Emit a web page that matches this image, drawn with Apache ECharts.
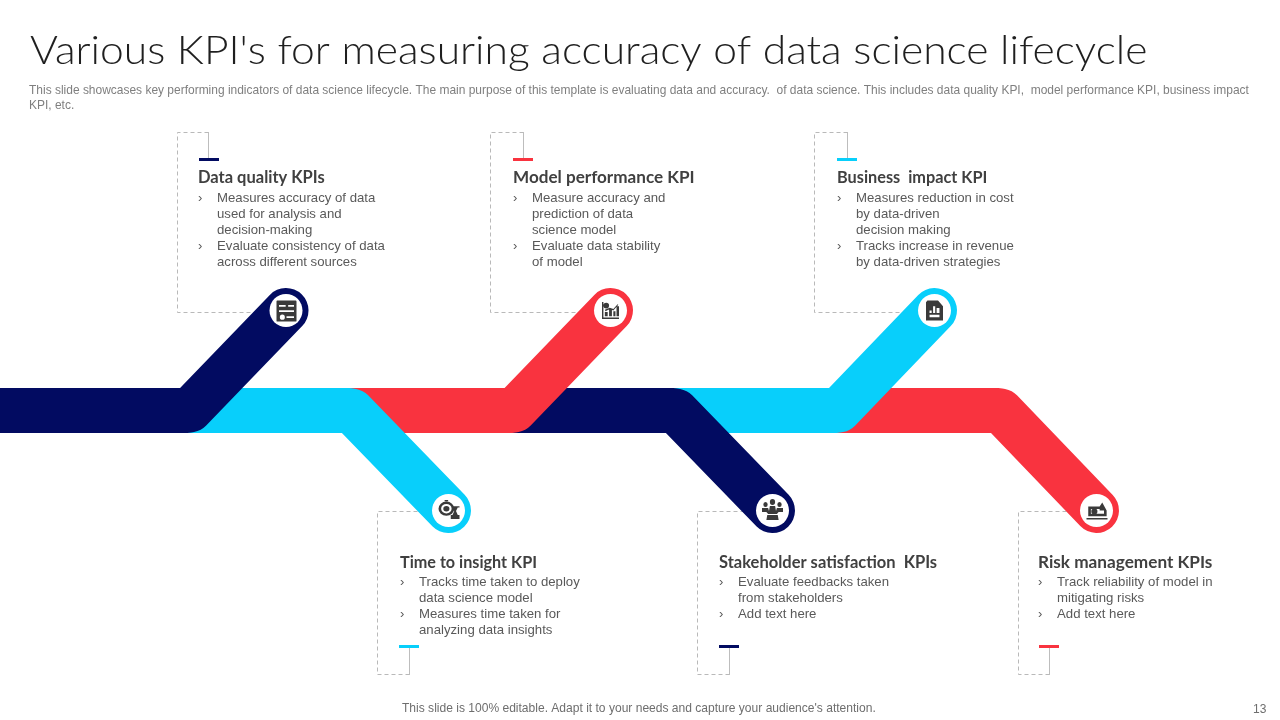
<!DOCTYPE html>
<html><head><meta charset="utf-8">
<style>html,body{margin:0;padding:0;background:#fff}#c{width:1280px;height:720px}</style>
<script src="https://cdn.jsdelivr.net/npm/echarts@6/dist/echarts.min.js"></script></head>
<body><div id="c"></div>
<script>
const titleText = "Various KPI's for measuring accuracy of data science lifecycle";
const subtitleLines = [
  "This slide showcases key performing indicators of data science lifecycle. The main purpose of this template is evaluating data and accuracy.  of data science. This includes data quality KPI,  model performance KPI, business impact",
  "KPI, etc."
];
const footerText = "This slide is 100% editable. Adapt it to your needs and capture your audience's attention.";
const pageNumber = "13";

const headings = ["Data quality KPIs","Model performance KPI","Business  impact KPI","Time to insight KPI","Stakeholder satisfaction  KPIs","Risk management KPIs"];
const headingSizes = [16.5,17.1,16.3,16.2,16.5,17.2];
const bullets = [
  [["Measures accuracy of data","used for analysis and","decision-making"],["Evaluate consistency of data","across different sources"]],
  [["Measure accuracy and","prediction of data","science model"],["Evaluate data stability","of model"]],
  [["Measures reduction in cost","by data-driven","decision making"],["Tracks increase in revenue","by data-driven strategies"]],
  [["Tracks time taken to deploy","data science model"],["Measures time taken for","analyzing data insights"]],
  [["Evaluate feedbacks taken","from stakeholders"],["Add text here"]],
  [["Track reliability of model in","mitigating risks"],["Add text here"]]
];

const NAVY="#020b61", RED="#f9333f", CYAN="#08cffb";
const cardColors=[NAVY,RED,CYAN,CYAN,NAVY,RED];

const ribbonRed2  =[[839,410.5],[998.3,410.5],[1001,411],[1002.9,412.5],[1096.5,510.5]];
const ribbonCyan2 =[[676,410.5],[836.3,410.5],[839,410],[840.9,408.5],[934.5,310.5]];
const ribbonNavy2 =[[514.5,410.5],[673.3,410.5],[676,411],[677.9,412.5],[772.5,510.5]];
const ribbonRed1  =[[352,410.5],[511.8,410.5],[514.5,410],[516.4,408.5],[610.5,310.5]];
const ribbonCyan1 =[[190,410.5],[349.3,410.5],[352,411],[353.9,412.5],[448.5,510.5]];
const ribbonNavy1 =[[0,410.5],[187.3,410.5],[190,410],[191.9,408.5],[286,310.5]];

const nodeCenters=[[286,310.5],[610.5,310.5],[934.5,310.5],[448.5,510.5],[772.5,510.5],[1096.5,510.5]];
const iconCenters=[[286.5,311],[610.5,310.5],[934.5,310.5],[449,509.5],[772.5,509.5],[1097,511]];
const iconSizes=[[20,21],[17,17],[17,20],[21,19],[21,21],[21,17]];
const iconPaths=[
 "M0 1Q0 0 1 0H23Q24 0 24 1V23Q24 24 23 24H1Q0 24 0 23ZM3 5V7H11V5ZM14 5V7H21V5ZM3 11V13H21V11ZM7 16A3 3 0 1 0 7 22A3 3 0 1 0 7 16ZM12 18V20H21V18Z",
 "M0 0H2V22H24V24H0ZM4 14H8V20H4ZM10 10H14V20H10ZM16 13H19V20H16ZM20.5 6H24V20H20.5ZM6 1A4 4 0 1 1 6 9A4 4 0 1 1 6 1ZM4 11L11 8L16 10L22 3L23 4L16 12L11 10L5 13Z",
 "M2 0H17L24 7V24H0V2ZM5 17V20H19V17ZM5 14V15H8V12H5ZM10 15H13V7H10ZM15 15H19V9H15Z",
 "M9 2A9 9 0 1 1 9 20A9 9 0 1 1 9 2ZM9 5A6 6 0 1 0 9 17A6 6 0 1 0 9 5ZM9 7.5A3.5 3.5 0 1 1 9 14.5A3.5 3.5 0 1 1 9 7.5ZM7 0H11V1.5H7ZM16 8H24V9.5H22L20 14L22 19H24V24H14V19H16L18 14L16 9.5Z",
 "M12 3A3 3 0 1 1 12 9A3 3 0 1 1 12 3ZM4 6A2.5 2.5 0 1 1 4 11A2.5 2.5 0 1 1 4 6ZM20 6A2.5 2.5 0 1 1 20 11A2.5 2.5 0 1 1 20 6ZM0 12H7L8 15L9 10H15L16 15L17 12H24V16H19L17 18H7L5 16H0ZM12 13A2.5 2.5 0 1 1 12 18A2.5 2.5 0 1 1 12 13ZM6 19H18L19 24H5Z",
 "M2 6H15L18 1L23 11V18H2ZM5 9V15H20V11H15V9ZM9 8.5A3.5 3.5 0 1 1 9 15.5A3.5 3.5 0 1 1 9 8.5ZM0 20H24V22H0Z"
];

const dashBoxes=[
 [[208.5,132.5],[177.5,132.5],[177.5,312.5],[262,312.5]],
 [[523.5,132.5],[490.5,132.5],[490.5,312.5],[588,312.5]],
 [[847.5,132.5],[814.5,132.5],[814.5,312.5],[912,312.5]],
 [[409.5,674.5],[377.5,674.5],[377.5,511.5],[428,511.5]],
 [[729.5,674.5],[697.5,674.5],[697.5,511.5],[752,511.5]],
 [[1049.5,674.5],[1018.5,674.5],[1018.5,511.5],[1076,511.5]]
];
const tickLines=[[[208.5,132],[208.5,159]],[[523.5,132],[523.5,159]],[[847.5,132],[847.5,159]],[[409.5,675],[409.5,647]],[[729.5,675],[729.5,647]],[[1049.5,675],[1049.5,647]]];
const accentBars=[[[199,159.5],[219,159.5]],[[513,159.5],[533,159.5]],[[837,159.5],[857,159.5]],[[399,646.5],[419,646.5]],[[719,646.5],[739,646.5]],[[1039,646.5],[1059,646.5]]];

const textX=[198,513,837,400,719,1038];
const headY=[177.5,177.5,177.5,562.5,562.5,562.5];
const bodyY=[198,198,198,582,582,582];

const HEAD_FONT='"Lato","Open Sans",sans-serif', BODY_FONT='"Liberation Sans",Arial,sans-serif';

function lineSeries(data,color,width,opts){
  return Object.assign({type:'line',data,symbol:'none',silent:true,lineStyle:{color,width,cap:'butt',join:'miter'}},opts||{});
}
function ribbon(data,color,z){
  return {type:'line',data,symbol:'none',silent:true,z,lineStyle:{color,width:45,cap:'round',join:'round'}};
}
const series=[];
dashBoxes.forEach(d=>series.push({type:'line',data:d,symbol:'none',silent:true,z:1,lineStyle:{color:'#b9b9b9',width:1,type:[4,3]}}));
tickLines.forEach(d=>series.push(lineSeries(d,'#bdbdbd',1,{z:1})));
accentBars.forEach((d,i)=>series.push(lineSeries(d,cardColors[i],3,{z:2})));
[[ribbonRed2,RED],[ribbonCyan2,CYAN],[ribbonNavy2,NAVY],[ribbonRed1,RED],[ribbonCyan1,CYAN],[ribbonNavy1,NAVY]]
  .forEach((r,i)=>series.push(ribbon(r[0],r[1],3+i)));
series.push({type:'scatter',z:10,silent:true,symbol:'circle',symbolSize:33,itemStyle:{color:'#fff',opacity:1},data:nodeCenters});
series.push({type:'scatter',z:11,silent:true,itemStyle:{color:'#3a3a3a',opacity:1},
  data:iconCenters.map((c,i)=>({value:c,symbol:'path://'+iconPaths[i],symbolSize:iconSizes[i],symbolKeepAspect:false}))});

const g=[];
function txt(text,x,y,font,color,scaleX){
  g.push({type:'text',x,y,scaleX:scaleX||1,silent:true,z:20,style:{text,x:0,y:0,font,fill:color,textAlign:'left',textVerticalAlign:'middle'}});
}
txt(titleText,30,51.5,'300 38.5px "Lato","Open Sans",sans-serif','#1f1f1f',1.106);
subtitleLines.forEach((t,i)=>txt(t,29,91+i*14.5,'11.97px '+BODY_FONT,'#7f7f7f'));
txt(footerText,402,709,'12.05px '+BODY_FONT,'#6e6e6e');
txt(pageNumber,1253,710,'12px '+BODY_FONT,'#6e6e6e');
headings.forEach((h,i)=>{
  txt(h,textX[i],headY[i],'700 '+headingSizes[i]+'px '+HEAD_FONT,'#404040');
  let n=0;
  bullets[i].forEach(b=>{
    txt('›',textX[i],bodyY[i]+n*16,'13px '+BODY_FONT,'#595959');
    b.forEach(line=>{txt(line,textX[i]+19,bodyY[i]+n*16,'13.2px '+BODY_FONT,'#595959');n++;});
  });
});

const chart=echarts.init(document.getElementById('c'),null,{renderer:'canvas'});
chart.setOption({
  animation:false,backgroundColor:'#fff',
  grid:{left:0,right:0,top:0,bottom:0},
  xAxis:{type:'value',min:0,max:1280,show:false},
  yAxis:{type:'value',min:0,max:720,inverse:true,show:false},
  series,graphic:g
});
</script></body></html>
